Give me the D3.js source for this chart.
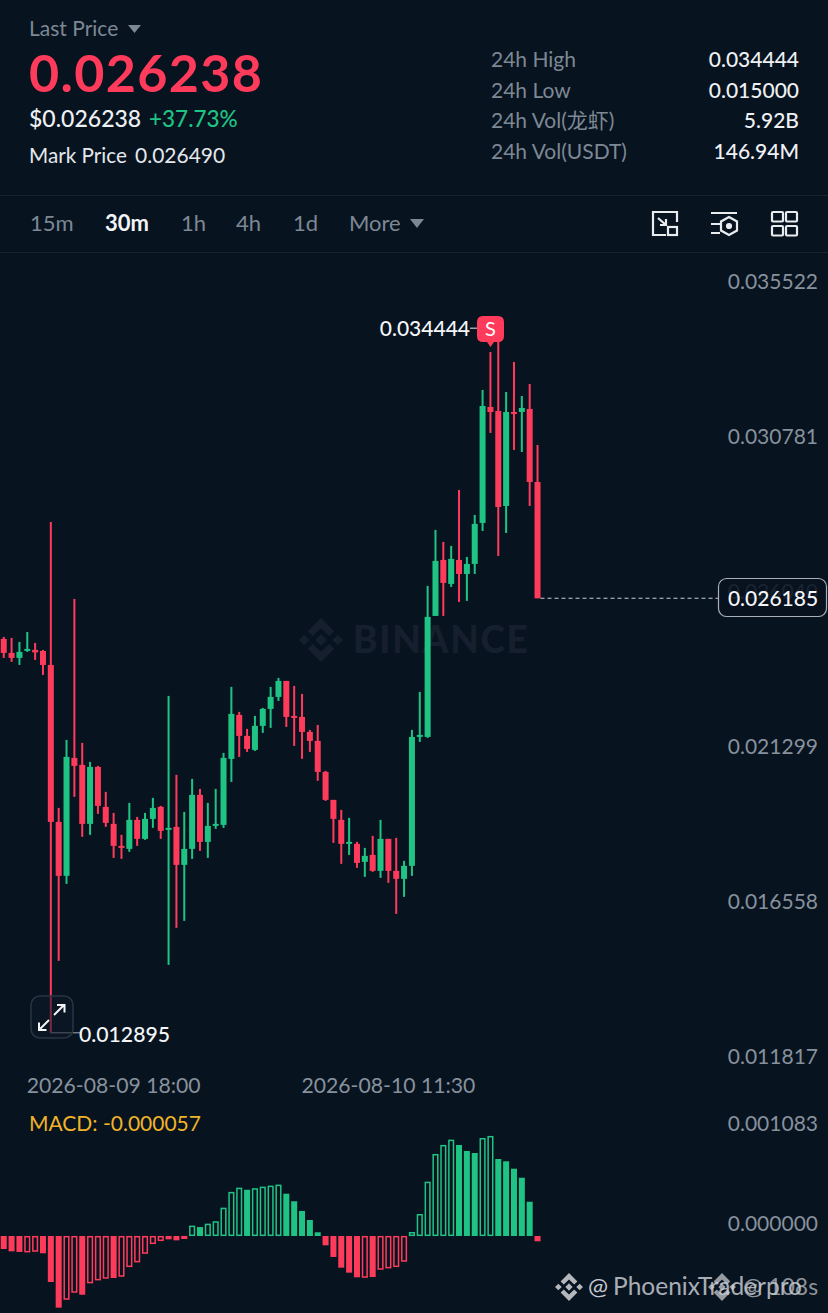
<!DOCTYPE html>
<html>
<head>
<meta charset="utf-8">
<script src="https://cdn.jsdelivr.net/npm/d3@7"></script>
<style>
html,body{margin:0;padding:0;background:#081320;}
svg{display:block;}
text{font-family:Lato,"Noto Sans CJK SC",sans-serif;}
</style>
</head>
<body>
<div id="chart"></div>
<script>
// candles, 30m
var opens = [0.024941,0.024513,0.024360,0.024575,0.024605,0.024575,0.024146,0.019345,0.017694,0.021302,
0.021088,0.019284,0.021027,0.019804,0.019284,0.018611,0.018519,0.019406,0.018825,0.019437,
0.019804,0.019101,0.019192,0.018030,0.018519,0.020171,0.018734,0.019223,0.019253,0.021272,
0.022617,0.021975,0.021547,0.022281,0.022801,0.023168,0.023657,0.022587,0.022556,0.022097,
0.021822,0.020874,0.020018,0.019406,0.018673,0.018673,0.018122,0.018336,0.017847,0.018825,
0.017847,0.017603,0.018000,0.021944,0.021944,0.025645,0.027357,0.026624,0.027357,0.026929,
0.027235,0.028489,0.032036,0.031913,0.029008,0.031883,0.031883,0.031975,0.029742];
var closes = [0.024513,0.024360,0.024544,0.024636,0.024530,0.024146,0.019345,0.017694,0.021333,0.021058,
0.019284,0.021027,0.019835,0.019315,0.018611,0.018550,0.019406,0.018825,0.019437,0.019773,
0.019070,0.019162,0.018030,0.018519,0.020171,0.018734,0.019223,0.019284,0.021302,0.022648,
0.021975,0.021578,0.022281,0.022801,0.023168,0.023657,0.022556,0.022525,0.022097,0.021822,
0.020874,0.020018,0.019437,0.018673,0.018734,0.018091,0.018305,0.017847,0.018825,0.017847,
0.017603,0.018000,0.021944,0.022005,0.025614,0.027327,0.026654,0.027388,0.026929,0.027235,
0.028458,0.032066,0.031883,0.028978,0.031883,0.031853,0.032005,0.029742,0.026185];
var highs = [0.025003,0.024972,0.024850,0.025155,0.024819,0.024605,0.028519,0.019773,0.021853,0.026165,
0.021761,0.021180,0.021058,0.020263,0.019620,0.018948,0.019926,0.019498,0.019620,0.020079,
0.019835,0.023198,0.020783,0.019651,0.020660,0.020354,0.019926,0.020354,0.021455,0.023474,
0.022709,0.022189,0.022587,0.022831,0.023474,0.023749,0.023657,0.023504,0.023259,0.022158,
0.022311,0.020905,0.020018,0.019712,0.019468,0.018734,0.018550,0.018917,0.019406,0.018825,
0.018856,0.018153,0.022158,0.023321,0.026562,0.028275,0.027908,0.027786,0.029498,0.027449,
0.028733,0.032556,0.033718,0.034444,0.032495,0.033412,0.032372,0.032739,0.030874];
var lows = [0.024360,0.024238,0.024146,0.024544,0.024299,0.023840,0.012895,0.015095,0.017449,0.020110,
0.018887,0.018948,0.019590,0.019192,0.018244,0.018213,0.018428,0.018611,0.018795,0.019162,
0.018825,0.014972,0.016104,0.016318,0.018213,0.018458,0.018244,0.019131,0.019162,0.020568,
0.021333,0.021486,0.021516,0.022067,0.022220,0.023045,0.022250,0.021670,0.021272,0.021486,
0.020599,0.019987,0.018703,0.018061,0.018336,0.017939,0.017664,0.017816,0.017633,0.017480,
0.016532,0.017052,0.017694,0.021791,0.021914,0.025645,0.025645,0.026532,0.026073,0.026104,
0.026929,0.028244,0.031241,0.027479,0.028183,0.030721,0.030660,0.029008,0.026185];

// MACD histogram
var macdValues = [-0.000141,-0.000166,-0.000173,-0.000177,-0.000170,-0.000187,-0.000498,-0.000776,-0.000690,-0.000614,
-0.000636,-0.000512,-0.000480,-0.000462,-0.000455,-0.000441,-0.000336,-0.000285,-0.000192,-0.000087,
-0.000054,-0.000036,-0.000047,-0.000032,0.000112,0.000097,0.000133,0.000159,0.000306,0.000477,
0.000523,0.000501,0.000517,0.000534,0.000545,0.000556,0.000458,0.000376,0.000271,0.000173,
0.000040,-0.000101,-0.000227,-0.000343,-0.000397,-0.000447,-0.000452,-0.000444,-0.000365,-0.000350,
-0.000336,-0.000278,0.000043,0.000238,0.000588,0.000888,0.000986,0.001043,0.000986,0.000921,
0.000899,0.001061,0.001083,0.000834,0.000809,0.000729,0.000631,0.000371,-0.000057];
var macdHollow = [3,4,8,9,11,12,13,15,16,17,18,19,20,23,24,26,27,28,29,30,32,33,34,35,46,48,49,50,51,52,53,54,55,56,57,61,62];

var priceTicks = [0.035522,0.030781,0.026040,0.021299,0.016558,0.011817];
var macdTicks = [0.001083,0];
var timeTicks = {14:"2026-08-09 18:00",49:"2026-08-10 11:30"};
var intervals = ["15m","30m","1h","4h","1d","More"];
var intervalX = [30,105,181,236,293,349];
var statNames = ["24h High","24h Low","24h Vol(龙虾)","24h Vol(USDT)"];
var statValues = ["0.034444","0.015000","5.92B","146.94M"];

var bg = "#081320", red = "#ff3b5c", green = "#1fc484", gray = "#7d8894", axisGray = "#87919c", line = "#182330";
var W = 828, H = 1313;

var svg = d3.select("#chart").append("svg").attr("width",W).attr("height",H);
svg.append("rect").attr("width",W).attr("height",H).attr("fill",bg);

function label(x,y,str,size,fill,anchor,weight){
  return svg.append("text").attr("x",x).attr("y",y).text(str)
    .attr("font-size",size).attr("fill",fill)
    .attr("text-anchor",anchor||"start").attr("font-weight",weight||400);
}

// binance diamond logo
function logo(cx,cy,r,fill,op){
  var g = svg.append("g").attr("transform",`translate(${cx},${cy}) scale(${r/10})`)
    .attr("fill",fill).attr("opacity",op);
  g.append("path").attr("d","M0,-2.6L2.6,0L0,2.6L-2.6,0Z");
  g.append("path").attr("d","M-10,0L-7.6,-2.4L-5.2,0L-7.6,2.4Z");
  g.append("path").attr("d","M10,0L7.6,-2.4L5.2,0L7.6,2.4Z");
  g.append("path").attr("d","M0,-10L6,-4L3.7,-1.7L0,-5.4L-3.7,-1.7L-6,-4Z");
  g.append("path").attr("d","M0,10L6,4L3.7,1.7L0,5.4L-3.7,1.7L-6,4Z");
}

// header
label(29,36,"Last Price",21,gray);
svg.append("path").attr("d","M128,25H141L134.5,33Z").attr("fill",gray);
label(29,92,"0.026238",52,red,"start",700).attr("letter-spacing",1.35);
label(29,127,"$0.026238",23,"#eef1f4","start",500);
label(149,127,"+37.73%",22.5,green,"start",500);
label(29,163,"Mark Price",20.7,"#e4e8ec");
label(135,163,"0.026490",21,"#e4e8ec");

statNames.forEach(function(d,i){
  label(491,67+i*30.7,d,21,gray);
  label(799,67+i*30.7,statValues[i],21,"#eef1f4","end",500);
});

svg.append("rect").attr("x",0).attr("y",195).attr("width",W).attr("height",1).attr("fill",line);
svg.append("rect").attr("x",0).attr("y",252).attr("width",W).attr("height",1).attr("fill",line);

intervals.forEach(function(d,i){
  label(intervalX[i],231,d,22,i==1?"#f2f4f6":gray,"start",i==1?700:400);
});
svg.append("path").attr("d","M410,219H424L417,228Z").attr("fill",gray);

// toolbar icons
var icons = svg.append("g").attr("fill","none").attr("stroke","#e8ecef").attr("stroke-width",2.2);
icons.append("path").attr("d","M677,222V212H653V235H666");
icons.append("rect").attr("x",668).attr("y",227).attr("width",9).attr("height",8);
icons.append("path").attr("d","M658,218L666,225M666,219V225H660");
icons.append("path").attr("d","M711,213H737M711,224H720M711,233H720");
icons.append("path").attr("d","M729,217L737,221.5V230.5L729,235L721,230.5V221.5Z");
icons.append("circle").attr("cx",729).attr("cy",226).attr("r",2).attr("fill","#e8ecef");
[772,786].forEach(function(a){ [212,226].forEach(function(b){
  icons.append("rect").attr("x",a).attr("y",b).attr("width",11).attr("height",9.5).attr("rx",1);
});});

// watermark
logo(321,640,22,"#161f2d",1);
label(353,653,"BINANCE",37,"#161f2d","start",900).attr("letter-spacing",1.7);

// scales
var x = d3.scaleBand().domain(d3.range(opens.length)).range([-0.2,541.45]);
var y = d3.scaleLinear().domain([0.035522,0.011817]).range([293,1068]);
var yMacd = d3.scaleLinear().domain([0.001083,0]).range([1136,1236]);
var cx = function(i){ return x(i)+x.bandwidth()/2; };

// price axis, labels sit above their level
var yAxis = svg.append("g").attr("transform",`translate(818,0)`)
  .call(d3.axisRight(y).tickValues(priceTicks).tickSize(0).tickFormat(d3.format(".6f")));
yAxis.select(".domain").remove();
yAxis.selectAll("text").attr("x",0).attr("dy",-5).attr("text-anchor","end")
  .attr("font-size",21).attr("font-family","Lato").attr("fill",axisGray);
yAxis.selectAll(".tick").filter(function(d){ return d==0.026040; }).select("text").attr("opacity",0.45);

var mAxis = svg.append("g").attr("transform",`translate(818,0)`)
  .call(d3.axisRight(yMacd).tickValues(macdTicks).tickSize(0).tickFormat(d3.format(".6f")));
mAxis.select(".domain").remove();
mAxis.selectAll("text").attr("x",0).attr("dy",-6).attr("text-anchor","end")
  .attr("font-size",21).attr("font-family","Lato").attr("fill",axisGray);

var xAxis = svg.append("g").attr("transform",`translate(0,1068)`)
  .call(d3.axisBottom(x).tickValues([14,49]).tickSize(0).tickFormat(function(d){ return timeTicks[d]; }));
xAxis.select(".domain").remove();
xAxis.selectAll("text").attr("y",10).attr("font-size",21.2).attr("font-family","Lato").attr("fill",axisGray);

// candles
var idx = d3.range(opens.length);
var col = function(i){ return closes[i]>=opens[i] ? green : red; };
var candles = svg.append("g");
candles.selectAll(".wick").data(idx).enter().append("rect").attr("class","wick")
  .attr("x",function(i){ return cx(i)-1; }).attr("width",2)
  .attr("y",function(i){ return y(highs[i]); })
  .attr("height",function(i){ return y(lows[i])-y(highs[i]); })
  .attr("fill",col);
candles.selectAll(".body").data(idx).enter().append("rect").attr("class","body")
  .attr("x",function(i){ return cx(i)-3; }).attr("width",6)
  .attr("y",function(i){ return y(Math.max(opens[i],closes[i])); })
  .attr("height",function(i){ return Math.max(2,Math.abs(y(opens[i])-y(closes[i]))); })
  .attr("fill",col);

// last price line
var last = closes[closes.length-1];
svg.append("line").attr("x1",cx(68)+3).attr("x2",718).attr("y1",y(last)).attr("y2",y(last))
  .attr("stroke","#c9ced3").attr("stroke-width",1).attr("stroke-dasharray","4,3");
svg.append("rect").attr("x",718.5).attr("y",578.5).attr("width",108).attr("height",38).attr("rx",8)
  .attr("fill",bg).attr("fill-opacity",0.7).attr("stroke","#a8afb6").attr("stroke-width",1.2);
label(773,606,"0.026185",21,"#f4f6f8","middle",500);

// high marker
svg.append("line").attr("x1",470).attr("x2",478).attr("y1",y(0.034444)).attr("y2",y(0.034444)).attr("stroke","#9aa2aa").attr("stroke-width",1.5);
label(470,336,"0.034444",21,"#f4f6f8","end",500);
svg.append("path").attr("d","M483,316H498Q504,316 504,322V336Q504,342 498,342H494L490.5,347L487,342H483Q477,342 477,336V322Q477,316 483,316Z").attr("fill",red);
label(490.5,336,"S",20,"#fff","middle",400);

// low marker + expand button
svg.append("line").attr("x1",cx(6)).attr("x2",80).attr("y1",y(0.012895)).attr("y2",y(0.012895)).attr("stroke","#8a929a").attr("stroke-width",1.2);
label(79,1042,"0.012895",21.2,"#f4f6f8","start",500);
svg.append("rect").attr("x",31).attr("y",996).attr("width",42).attr("height",42).attr("rx",9)
  .attr("fill","#0f1a28").attr("fill-opacity",0.55).attr("stroke","#2a3441").attr("stroke-width",1.5);
svg.append("path").attr("d","M54,1015L64,1005M57,1005H64.5V1012.5M49,1020L39,1030M39,1022.5V1030H46.5")
  .attr("fill","none").attr("stroke","#f2f4f6").attr("stroke-width",2);

// MACD
label(29,1131,"MACD: -0.000057",21,"#f0b429");
var hist = svg.append("g");
var isHollow = function(i){ return macdHollow.indexOf(i)>=0; };
hist.selectAll("rect").data(idx).enter().append("rect")
  .attr("x",function(i){ return cx(i)-(isHollow(i)?2.3:3); })
  .attr("width",function(i){ return isHollow(i)?4.6:6; })
  .attr("y",function(i){ return Math.min(yMacd(macdValues[i]),yMacd(0))+(isHollow(i)?0.7:0); })
  .attr("height",function(i){ return Math.abs(yMacd(macdValues[i])-yMacd(0))-(isHollow(i)?1.4:0); })
  .attr("fill",function(i){ return isHollow(i)?"none":(macdValues[i]>=0?green:red); })
  .attr("stroke",function(i){ return isHollow(i)?(macdValues[i]>=0?green:red):"none"; })
  .attr("stroke-width",1.5);

// footer watermark, two overlapping ones
logo(569,1287,14,"#d2d5d9",0.85);
label(588,1295,"@",24,"#c5c9ce");
label(613,1295,"PhoenixTraderpro",24.5,"#c5c9ce").attr("opacity",0.85);
logo(722,1287,14,"#d2d5d9",0.7);
label(743,1295,"@ 108s",23,"#c5c9ce").attr("opacity",0.7);
</script>
</body>
</html>
